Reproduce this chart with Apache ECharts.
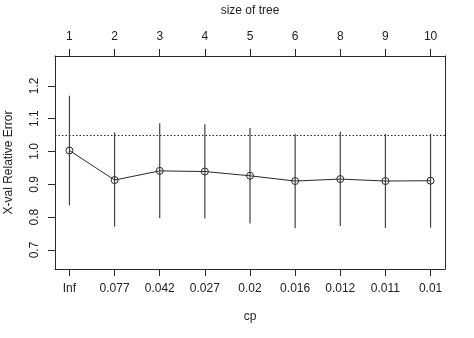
<!DOCTYPE html>
<html><head><meta charset="utf-8">
<script src="https://cdn.jsdelivr.net/npm/echarts@6/dist/echarts.min.js"></script>
<style>html,body{margin:0;padding:0;background:#fff}#c{width:474px;height:338px}</style>
</head><body><div id="c"></div>
<script>
const cpLabels = ['Inf','0.077','0.042','0.027','0.02','0.016','0.012','0.011','0.01'];
const treeSizes = ['1','2','3','4','5','6','8','9','10'];
const xerror = [1.003, 0.913, 0.941, 0.939, 0.926, 0.910, 0.916, 0.910, 0.911];
const upper  = [1.170, 1.058, 1.086, 1.083, 1.072, 1.054, 1.060, 1.054, 1.054];
const lower  = [0.836, 0.771, 0.797, 0.796, 0.781, 0.766, 0.773, 0.767, 0.768];
const refLine = 1.054;
const yTicks = [0.7, 0.8, 0.9, 1.0, 1.1, 1.2];

const pos = cpLabels.map((_, i) => i + 1);
const font = 'Liberation Sans, Arial, Helvetica, sans-serif';
const ink = '#2a2a2a';
const fs = 12;

const chart = echarts.init(document.getElementById('c'), null, {renderer: 'canvas'});
const axisBase = {
  axisLine: {show: true, lineStyle: {color: ink, width: 1}},
  axisTick: {show: true, length: 7, lineStyle: {color: ink, width: 1}},
  splitLine: {show: false},
  nameTextStyle: {fontFamily: font, fontSize: fs, color: '#222'}
};
chart.setOption({
  animation: false,
  backgroundColor: '#fff',
  grid: {left: 55, right: 29, top: 56, bottom: 69, containLabel: false, outerBoundsMode: 'none'},
  xAxis: [
    Object.assign({}, axisBase, {
      type: 'value', position: 'bottom', min: 0.68, max: 9.32,
      name: 'cp', nameLocation: 'middle', nameGap: 42,
      axisTick: Object.assign({}, axisBase.axisTick, {customValues: pos}),
      axisLabel: {customValues: pos, margin: 14, fontFamily: font, fontSize: fs, color: '#222',
        formatter: v => cpLabels[Math.round(v) - 1]}
    }),
    Object.assign({}, axisBase, {
      type: 'value', position: 'top', min: 0.68, max: 9.32,
      name: 'size of tree', nameLocation: 'middle', nameGap: 39,
      axisTick: Object.assign({}, axisBase.axisTick, {customValues: pos}),
      axisLabel: {customValues: pos, margin: 13, fontFamily: font, fontSize: fs, color: '#222',
        formatter: v => treeSizes[Math.round(v) - 1]}
    })
  ],
  yAxis: [
    Object.assign({}, axisBase, {
      type: 'value', position: 'left', min: 0.642, max: 1.291,
      name: 'X-val Relative Error', nameLocation: 'middle', nameGap: 40, nameRotate: 90,
      axisTick: Object.assign({}, axisBase.axisTick, {customValues: yTicks}),
      axisLabel: {customValues: yTicks, rotate: 90, margin: 14, fontFamily: font, fontSize: fs, color: '#222',
        formatter: v => v.toFixed(1)}
    }),
    Object.assign({}, axisBase, {
      type: 'value', position: 'right', min: 0.642, max: 1.291,
      axisTick: {show: false}, axisLabel: {show: false}
    })
  ],
  series: [
    {
      type: 'custom',
      xAxisIndex: 0, yAxisIndex: 0,
      data: pos.map((p, i) => [p, lower[i], upper[i]]),
      renderItem: (params, api) => {
        const a = api.coord([api.value(0), api.value(1)]);
        const b = api.coord([api.value(0), api.value(2)]);
        return {type: 'line', shape: {x1: a[0], y1: a[1], x2: b[0], y2: b[1]},
          style: {stroke: '#444', lineWidth: 1.2}};
      },
      z: 1
    },
    {
      type: 'line',
      xAxisIndex: 0, yAxisIndex: 0,
      data: pos.map((p, i) => [p, xerror[i]]),
      symbol: 'circle', symbolSize: 7,
      lineStyle: {color: ink, width: 1},
      itemStyle: {color: 'rgba(0,0,0,0)', borderColor: ink, borderWidth: 1},
      markLine: {
        silent: true, symbol: 'none', label: {show: false},
        lineStyle: {color: ink, type: [1.5, 2], width: 1},
        data: [{yAxis: refLine}]
      },
      z: 3
    }
  ]
});
</script>
</body></html>
